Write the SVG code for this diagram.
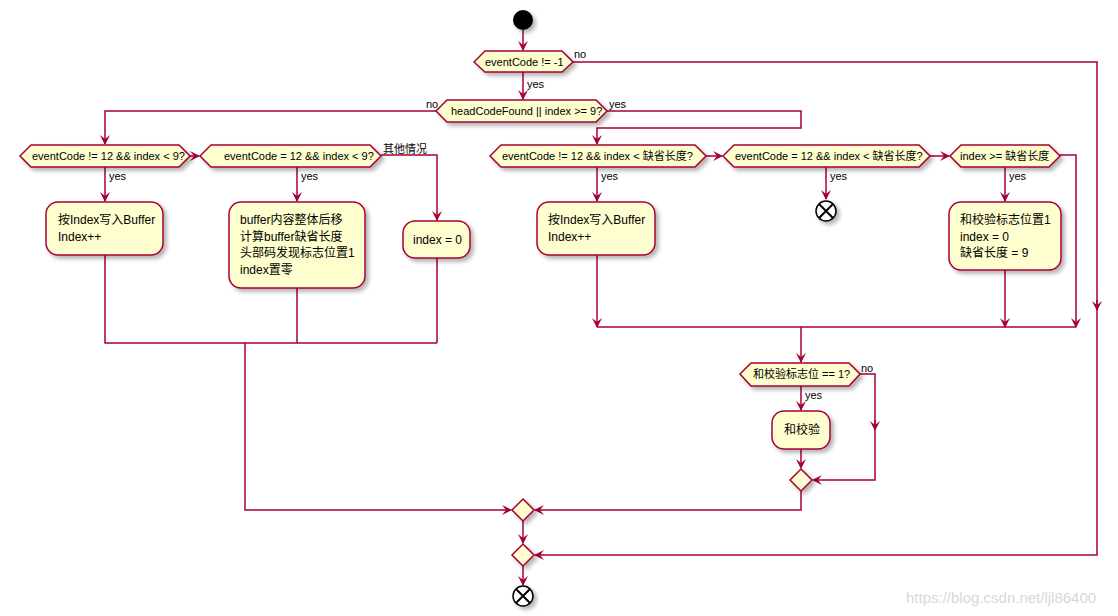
<svg xmlns="http://www.w3.org/2000/svg" width="1118" height="616" viewBox="0 0 1118 616">
<style>
.n{fill:#FEFECE;stroke:#A80036;stroke-width:1.5;filter:url(#sh)}
.l{fill:none;stroke:#A80036;stroke-width:1.5}
text{font-family:"Liberation Sans","Noto Sans CJK SC",sans-serif;font-size:12px;fill:#000}
.s{font-size:11px}
</style>
<defs>
<filter id="sh" x="-20%" y="-20%" width="150%" height="160%"><feDropShadow dx="3" dy="3" stdDeviation="2" flood-color="#000" flood-opacity="0.3"/></filter>
<marker id="a" viewBox="0 0 10 10" refX="9" refY="5" markerWidth="10" markerHeight="10" orient="auto" markerUnits="userSpaceOnUse"><path d="M0,0 L10,5 L0,10 L4,5 Z" fill="#A80036"/></marker>
</defs>
<g id="connectors">
<path class="l" d="M523,30 V50" marker-end="url(#a)"/>
<path class="l" d="M573,62 H1097 V310" marker-end="url(#a)"/>
<path class="l" d="M1097,300 V555 H535" marker-end="url(#a)"/>
<path class="l" d="M523,72 V99" marker-end="url(#a)"/>
<path class="l" d="M436,111 H105 V144" marker-end="url(#a)"/>
<path class="l" d="M607,111 H801 V128 H597 V144" marker-end="url(#a)"/>
<path class="l" d="M190,156 H199" marker-end="url(#a)"/>
<path class="l" d="M105,167 V201" marker-end="url(#a)"/>
<path class="l" d="M297,167 V201" marker-end="url(#a)"/>
<path class="l" d="M381,155 H437 V220" marker-end="url(#a)"/>
<path class="l" d="M105,255 V343 H437"/>
<path class="l" d="M297,288 V343"/>
<path class="l" d="M437,258 V343"/>
<path class="l" d="M245,343 V510 H511" marker-end="url(#a)"/>
<path class="l" d="M706,156 H722" marker-end="url(#a)"/>
<path class="l" d="M930,156 H949" marker-end="url(#a)"/>
<path class="l" d="M597,167 V201" marker-end="url(#a)"/>
<path class="l" d="M826,167 V199" marker-end="url(#a)"/>
<path class="l" d="M1005,167 V201" marker-end="url(#a)"/>
<path class="l" d="M1060,155 H1076 V327" marker-end="url(#a)"/>
<path class="l" d="M597,255 V327" marker-end="url(#a)"/>
<path class="l" d="M1005,270 V327" marker-end="url(#a)"/>
<path class="l" d="M597,327 H1076"/>
<path class="l" d="M801,327 V362" marker-end="url(#a)"/>
<path class="l" d="M801,386 V410" marker-end="url(#a)"/>
<path class="l" d="M860,374 H875 V430" marker-end="url(#a)"/>
<path class="l" d="M875,420 V480 H813" marker-end="url(#a)"/>
<path class="l" d="M801,449 V468" marker-end="url(#a)"/>
<path class="l" d="M801,491 V510 H535" marker-end="url(#a)"/>
<path class="l" d="M523,521 V543" marker-end="url(#a)"/>
<path class="l" d="M523,566 V585" marker-end="url(#a)"/>
<text x="574" y="58" class="s">no</text>
<text x="527" y="88" class="s">yes</text>
<text x="426" y="108" class="s">no</text>
<text x="609" y="108" class="s">yes</text>
<text x="109" y="180" class="s">yes</text>
<text x="301" y="180" class="s">yes</text>
<text x="383" y="153" class="s">其他情况</text>
<text x="601" y="180" class="s">yes</text>
<text x="830" y="180" class="s">yes</text>
<text x="1009" y="180" class="s">yes</text>
<text x="861" y="372" class="s">no</text>
<text x="805" y="399" class="s">yes</text>
</g>
<g id="start"><circle cx="523" cy="20" r="10" fill="#000" filter="url(#sh)"/></g>
<g id="d1"><polygon class="n" points="474,62 485,51 562,51 573,62 562,72 485,72"/><text x="485" y="66" class="s">eventCode != -1</text></g>
<g id="d2"><polygon class="n" points="436,111 447,100 596,100 607,111 596,122 447,122"/><text x="451" y="115" class="s">headCodeFound || index &gt;= 9?</text></g>
<g id="d3"><polygon class="n" points="20,156 31,145 179,145 190,156 179,167 31,167"/><text x="32" y="160" class="s">eventCode != 12 &amp;&amp; index &lt; 9?</text></g>
<g id="d4"><polygon class="n" points="200,156 211,145 370,145 381,156 370,167 211,167"/><text x="224" y="160" class="s">eventCode = 12 &amp;&amp; index &lt; 9?</text></g>
<g id="b1"><rect class="n" x="46" y="202" width="117" height="53" rx="12"/><text x="58" y="224">按Index写入Buffer</text><text x="58" y="241">Index++</text></g>
<g id="b2"><rect class="n" x="229" y="202" width="136" height="86" rx="12"/><text x="240" y="224">buffer内容整体后移</text><text x="240" y="241">计算buffer缺省长度</text><text x="240" y="257">头部码发现标志位置1</text><text x="240" y="274">index置零</text></g>
<g id="b3"><rect class="n" x="403" y="221" width="67" height="37" rx="12"/><text x="413" y="244">index = 0</text></g>
<g id="d5"><polygon class="n" points="490,156 501,145 695,145 706,156 695,167 501,167"/><text x="502" y="160" class="s">eventCode != 12 &amp;&amp; index &lt; 缺省长度?</text></g>
<g id="d6"><polygon class="n" points="723,156 734,145 919,145 930,156 919,167 734,167"/><text x="735" y="160" class="s">eventCode = 12 &amp;&amp; index &lt; 缺省长度?</text></g>
<g id="d7"><polygon class="n" points="950,156 961,145 1049,145 1060,156 1049,167 961,167"/><text x="960" y="160" class="s">index &gt;= 缺省长度</text></g>
<g id="stop1"><circle cx="826" cy="211" r="10" fill="#fff" stroke="#000" stroke-width="1.5" filter="url(#sh)"/><path d="M819,204 L833,218 M833,204 L819,218" stroke="#000" stroke-width="2"/></g>
<g id="b4"><rect class="n" x="537" y="202" width="118" height="53" rx="12"/><text x="548" y="224">按Index写入Buffer</text><text x="548" y="241">Index++</text></g>
<g id="b5"><rect class="n" x="949" y="202" width="112" height="68" rx="12"/><text x="960" y="224">和校验标志位置1</text><text x="960" y="241">index = 0</text><text x="960" y="257">缺省长度 = 9</text></g>
<g id="d8"><polygon class="n" points="740,374 751,363 849,363 860,374 849,386 751,386"/><text x="753" y="378" class="s">和校验标志位 == 1?</text></g>
<g id="b6"><rect class="n" x="772" y="411" width="58" height="38" rx="12"/><text x="784" y="434">和校验</text></g>
<g id="m1"><polygon class="n" points="801,469 812,480 801,491 790,480"/></g>
<g id="m2"><polygon class="n" points="523,499 534,510 523,521 512,510"/></g>
<g id="m3"><polygon class="n" points="523,544 534,555 523,566 512,555"/></g>
<g id="stop2"><circle cx="523" cy="596" r="10" fill="#fff" stroke="#000" stroke-width="1.5" filter="url(#sh)"/><path d="M516,589 L530,603 M530,589 L516,603" stroke="#000" stroke-width="2"/></g>
<text x="906" y="603" style="font-size:15px;fill:#d8d8d8">https://blog.csdn.net/ljl86400</text>
</svg>
